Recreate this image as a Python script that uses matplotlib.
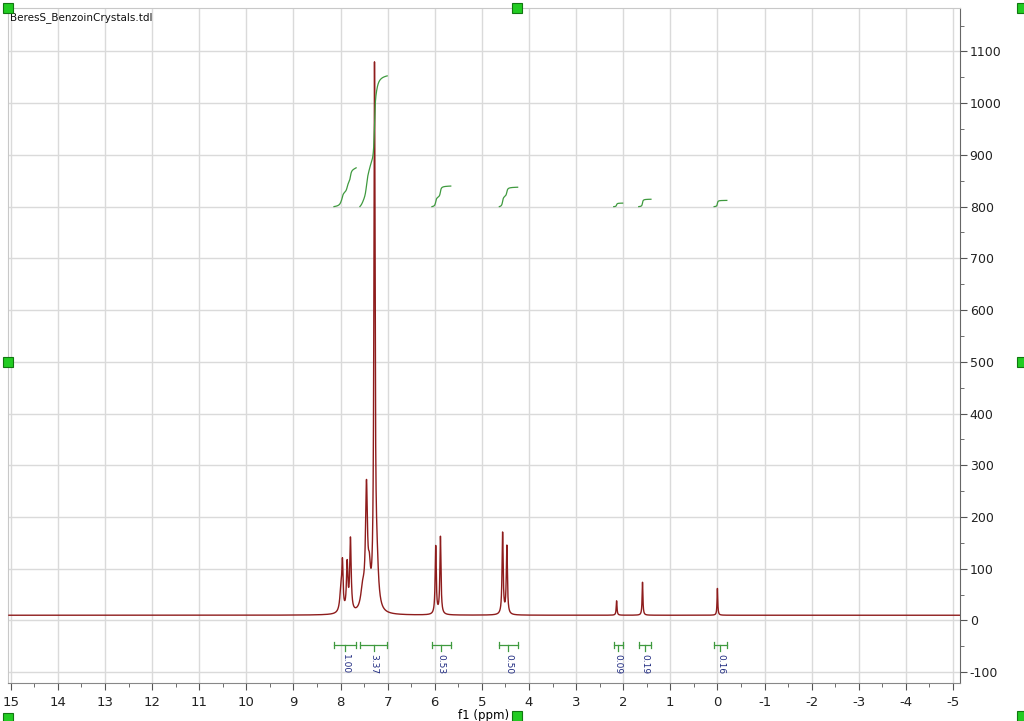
import numpy as np
import matplotlib
matplotlib.use("Agg")
import matplotlib.pyplot as plt
from matplotlib.patches import Rectangle

plt.rcParams["axes.unicode_minus"] = False

# peaks (ppm, height, half width in ppm)
peak_ppm = [7.99, 7.96, 7.86, 7.79, 7.53, 7.45, 7.39, 7.28, 7.23, 5.98, 5.88, 4.56, 4.47, 2.14, 1.59, 0.00]
peak_height = [45, 82, 92, 140, 40, 228, 60, 1028, 80, 132, 150, 158, 132, 28, 64, 52]
peak_width = [0.03, 0.015, 0.018, 0.018, 0.05, 0.025, 0.03, 0.015, 0.04, 0.014, 0.014, 0.014, 0.014, 0.01, 0.01, 0.009]
baseline = 10

# integral regions (start ppm, end ppm) and their labels
int_start = [8.14, 7.59, 6.06, 4.63, 2.20, 1.67, 0.07]
int_end = [7.67, 7.01, 5.66, 4.24, 2.01, 1.41, -0.20]
int_value = [1.00, 3.37, 0.53, 0.50, 0.09, 0.19, 0.16]
int_labels = ["1.00", "3.37", "0.53", "0.50", "0.09", "0.19", "0.16"]

red = "#8e1c1c"
green = "#3f9a3f"
navy = "#1f2a80"

ppm = np.linspace(15.04, -5.15, 12000)
spec = np.full_like(ppm, baseline, dtype=float)
for p, h, w in zip(peak_ppm, peak_height, peak_width):
    spec += h * w**2 / ((ppm - p)**2 + w**2)

fig = plt.figure(figsize=(10.24, 7.21), dpi=100)
ax = fig.add_axes([8/1024, 1 - 683/721, 952/1024, 675/721])
ax.set_xlim(15.06, -5.15)
ax.set_ylim(-121, 1184)

ax.plot(ppm, spec, color=red, lw=1.0, zorder=3)

# integral curves and brackets
for s, e, v, lab in zip(int_start, int_end, int_value, int_labels):
    m = (ppm <= s) & (ppm >= e)
    seg = spec[m] - baseline
    cum = np.cumsum(seg)
    cum = cum / cum[-1] * v * 75
    ax.plot(ppm[m], 800 + cum, color=green, lw=0.9, zorder=4)
    ax.plot([s, e], [-48, -48], color=green, lw=0.9, zorder=4)
    for xx in (s, e):
        ax.plot([xx, xx], [-42, -54], color=green, lw=0.9, zorder=4)
    c = (s + e) / 2
    ax.plot([c, c], [-48, -60], color=green, lw=0.9, zorder=4)
    ax.text(c, -64, lab, rotation=-90, ha="center", va="top", fontsize=6.5, color=navy)

ax.set_xticks(np.arange(15, -6, -1))
ax.set_xticks(np.arange(14.5, -5, -1), minor=True)
ax.set_yticks(np.arange(-100, 1101, 100))
ax.set_yticks(np.arange(-50, 1151, 100), minor=True)
ax.grid(True, which="major", color="#dadada", lw=1.0, zorder=0)

ax.yaxis.tick_right()
ax.tick_params(axis="y", which="both", direction="out", colors="#555555", labelcolor="#222222",
               labelsize=9, pad=2)
ax.tick_params(axis="y", which="major", length=5)
ax.tick_params(axis="y", which="minor", length=3)
ax.tick_params(axis="x", which="both", direction="out", colors="#555555", labelcolor="#222222",
               labelsize=9.5, pad=4)
ax.tick_params(axis="x", which="major", length=5)
ax.tick_params(axis="x", which="minor", length=3)

for side in ("left", "top"):
    ax.spines[side].set_color("#c8c8c8")
ax.spines["right"].set_color("#666666")
ax.spines["bottom"].set_color("#888888")

ax.set_xlabel("f1 (ppm)", fontsize=8.5, labelpad=0)
ax.text(10/1024, 1 - 18/721, "BeresS_BenzoinCrystals.tdl", transform=fig.transFigure,
        fontsize=7.5, va="center", ha="left", color="#111111")

# selection handles
for hx, hy in [(8, 8), (517, 8), (1022, 8), (8, 362), (1022, 362), (8, 718), (517, 716), (1022, 716)]:
    fig.add_artist(Rectangle(((hx - 5)/1024, 1 - (hy + 5)/721), 10/1024, 10/721,
                             transform=fig.transFigure, facecolor="#22cc22",
                             edgecolor="#117711", lw=0.8, zorder=10))

fig.savefig("out.png", dpi=100)
